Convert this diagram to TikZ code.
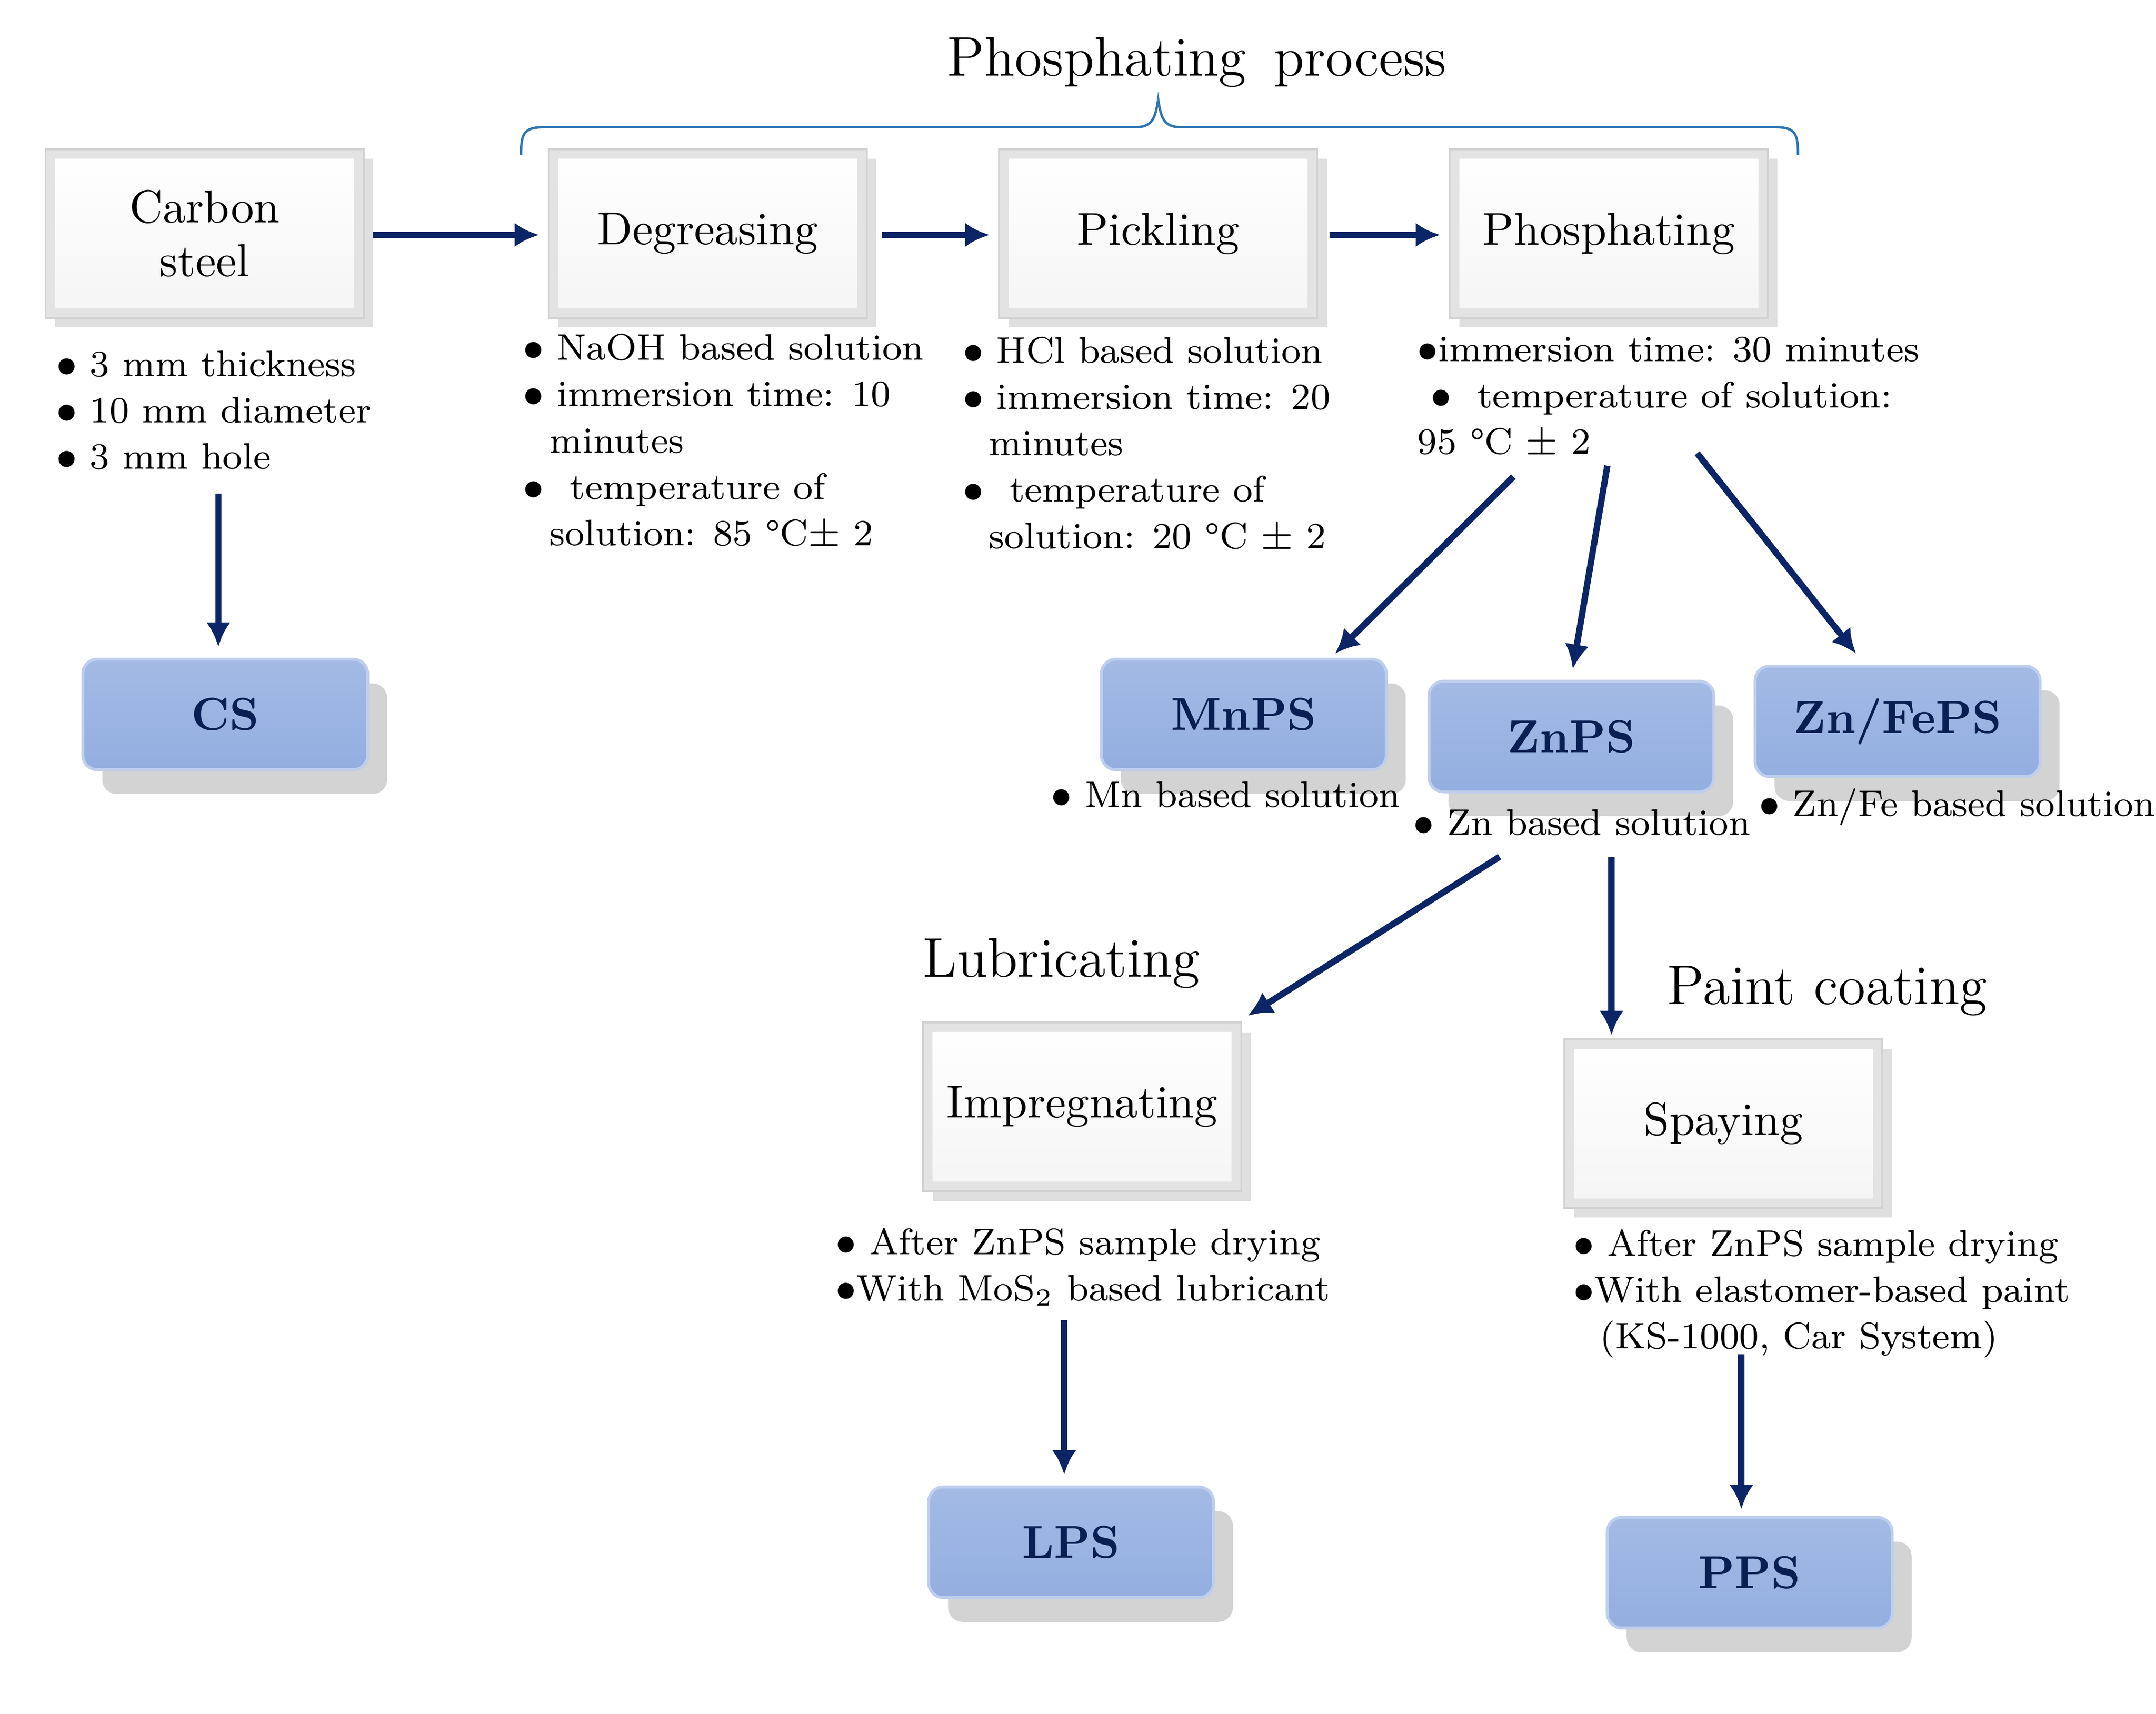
\documentclass[tikz,border=0pt]{standalone}
\usetikzlibrary{shadows,decorations.pathreplacing,arrows.meta}
\definecolor{navy}{HTML}{0B2566}
\definecolor{bfill}{HTML}{93AEE0}
\definecolor{bline}{HTML}{2E75B6}
\begin{document}
\begin{tikzpicture}[x=0.01cm,y=-0.01cm,
 gbox/.style={minimum width=2.3cm,minimum height=1.22cm,fill=gray!22,draw=gray!35,
   drop shadow={opacity=0.25,shadow xshift=2pt,shadow yshift=-2pt},
   font=\fontsize{9.5}{11}\selectfont,align=center,
   path picture={\shade[top color=white,bottom color=gray!8]
     ([shift={(0.07cm,0.07cm)}]path picture bounding box.south west) rectangle
     ([shift={(-0.07cm,-0.07cm)}]path picture bounding box.north east);}},
 bbox/.style={minimum width=2.06cm,minimum height=0.8cm,rounded corners=3pt,
   top color=bfill!85!white,bottom color=bfill,draw=bfill!60!white,line width=0.6pt,
   drop shadow={opacity=0.35,shadow xshift=4pt,shadow yshift=-5pt},
   font=\fontsize{9.5}{11}\selectfont\bfseries,text=navy!80!black},
 txt/.style={anchor=north west,align=left,inner sep=0pt,font=\fontsize{7.6}{9.55}\selectfont},
 ar/.style={-{Latex[length=5pt,width=5pt]},line width=1.3pt,draw=navy},
 ttl/.style={font=\fontsize{11.5}{13}\selectfont}]
\useasboundingbox (0,0) rectangle (1560,1240);
% title and brace
\node[ttl] (title) at (866,45) {Phosphating\, process};
\draw[bline,line width=0.5pt] (377,112) .. controls (377,95) and (380,92) .. (395,92) -- (822,92)
  .. controls (834,92) and (836,85) .. (838,72) .. controls (840,85) and (842,92) .. (854,92)
  -- (1283,92) .. controls (1298,92) and (1301,95) .. (1301,112);
% gray boxes
\node[gbox] (cs0) at (148,169) {Carbon\\steel};
\node[gbox] (deg) at (512,169) {Degreasing};
\node[gbox] (pick) at (838,169) {Pickling};
\node[gbox] (phos) at (1164,169) {Phosphating};
\node[gbox] (imp) at (783,801) {Impregnating};
\node[gbox] (spay) at (1247,813) {Spaying};
% blue boxes
\node[bbox] (cs) at (163,517) {CS};
\node[bbox] (mn) at (900,517) {MnPS};
\node[bbox] (zn) at (1137,533) {ZnPS};
\node[bbox] (znfe) at (1373,522) {Zn/FePS};
\node[bbox] (lps) at (775,1116) {LPS};
\node[bbox] (pps) at (1266,1138) {PPS};
% texts
\node[txt] (t1) at (40,253) {$\bullet$ 3 mm thickness\\$\bullet$ 10 mm diameter\\$\bullet$ 3 mm hole};
\node[txt] (t2) at (378,241) {$\bullet$ NaOH based solution\\$\bullet$ immersion time: 10\\\ \ minutes\\$\bullet$\ \ temperature of\\\ \ solution: 85 °C$\pm$ 2};
\node[txt] (t3) at (696,243) {$\bullet$ HCl based solution\\$\bullet$ immersion time: 20\\\ \ minutes\\$\bullet$\ \ temperature of\\\ \ solution: 20 °C $\pm$ 2};
\node[txt] (t4) at (1025,243) {$\bullet$immersion time: 30 minutes\\\ $\bullet$\ \ temperature of solution:\\95 °C $\pm$ 2};
\node[txt] (t5) at (760,565) {$\bullet$ Mn based solution};
\node[txt] (t6) at (1022,585) {$\bullet$ Zn based solution};
\node[txt] (t7) at (1272,570) {$\bullet$ Zn/Fe based solution};
\node[ttl] (lub) at (768,697) {Lubricating};
\node[ttl] (paint) at (1322,717) {Paint coating};
\node[txt] (t8) at (604,888) {$\bullet$ After ZnPS sample drying\\$\bullet$With MoS$_2$ based lubricant};
\node[txt] (t9) at (1138,889) {$\bullet$ After ZnPS sample drying\\$\bullet$With elastomer-based paint\\\ \ (KS-1000, Car System)};
% arrow coordinates
\coordinate (a1) at (270,170); \coordinate (a2) at (390,170);
\coordinate (b1) at (638,170); \coordinate (b2) at (716,170);
\coordinate (c1) at (962,170); \coordinate (c2) at (1042,170);
\coordinate (d1) at (158,357); \coordinate (d2) at (158,468);
\coordinate (e1) at (1095,345); \coordinate (e2) at (966,473);
\coordinate (f1) at (1163,337); \coordinate (f2) at (1138,484);
\coordinate (g1) at (1228,328); \coordinate (g2) at (1343,473);
\coordinate (h1) at (1085,620); \coordinate (h2) at (903,735);
\coordinate (i1) at (1166,620); \coordinate (i2) at (1166,749);
\coordinate (j1) at (770,955); \coordinate (j2) at (770,1067);
\coordinate (k1) at (1260,980); \coordinate (k2) at (1260,1092);
\foreach \p in {a,b,c,d,e,f,g,h,i,j,k} \draw[ar] (\p1) -- (\p2);
\end{tikzpicture}
\end{document}
